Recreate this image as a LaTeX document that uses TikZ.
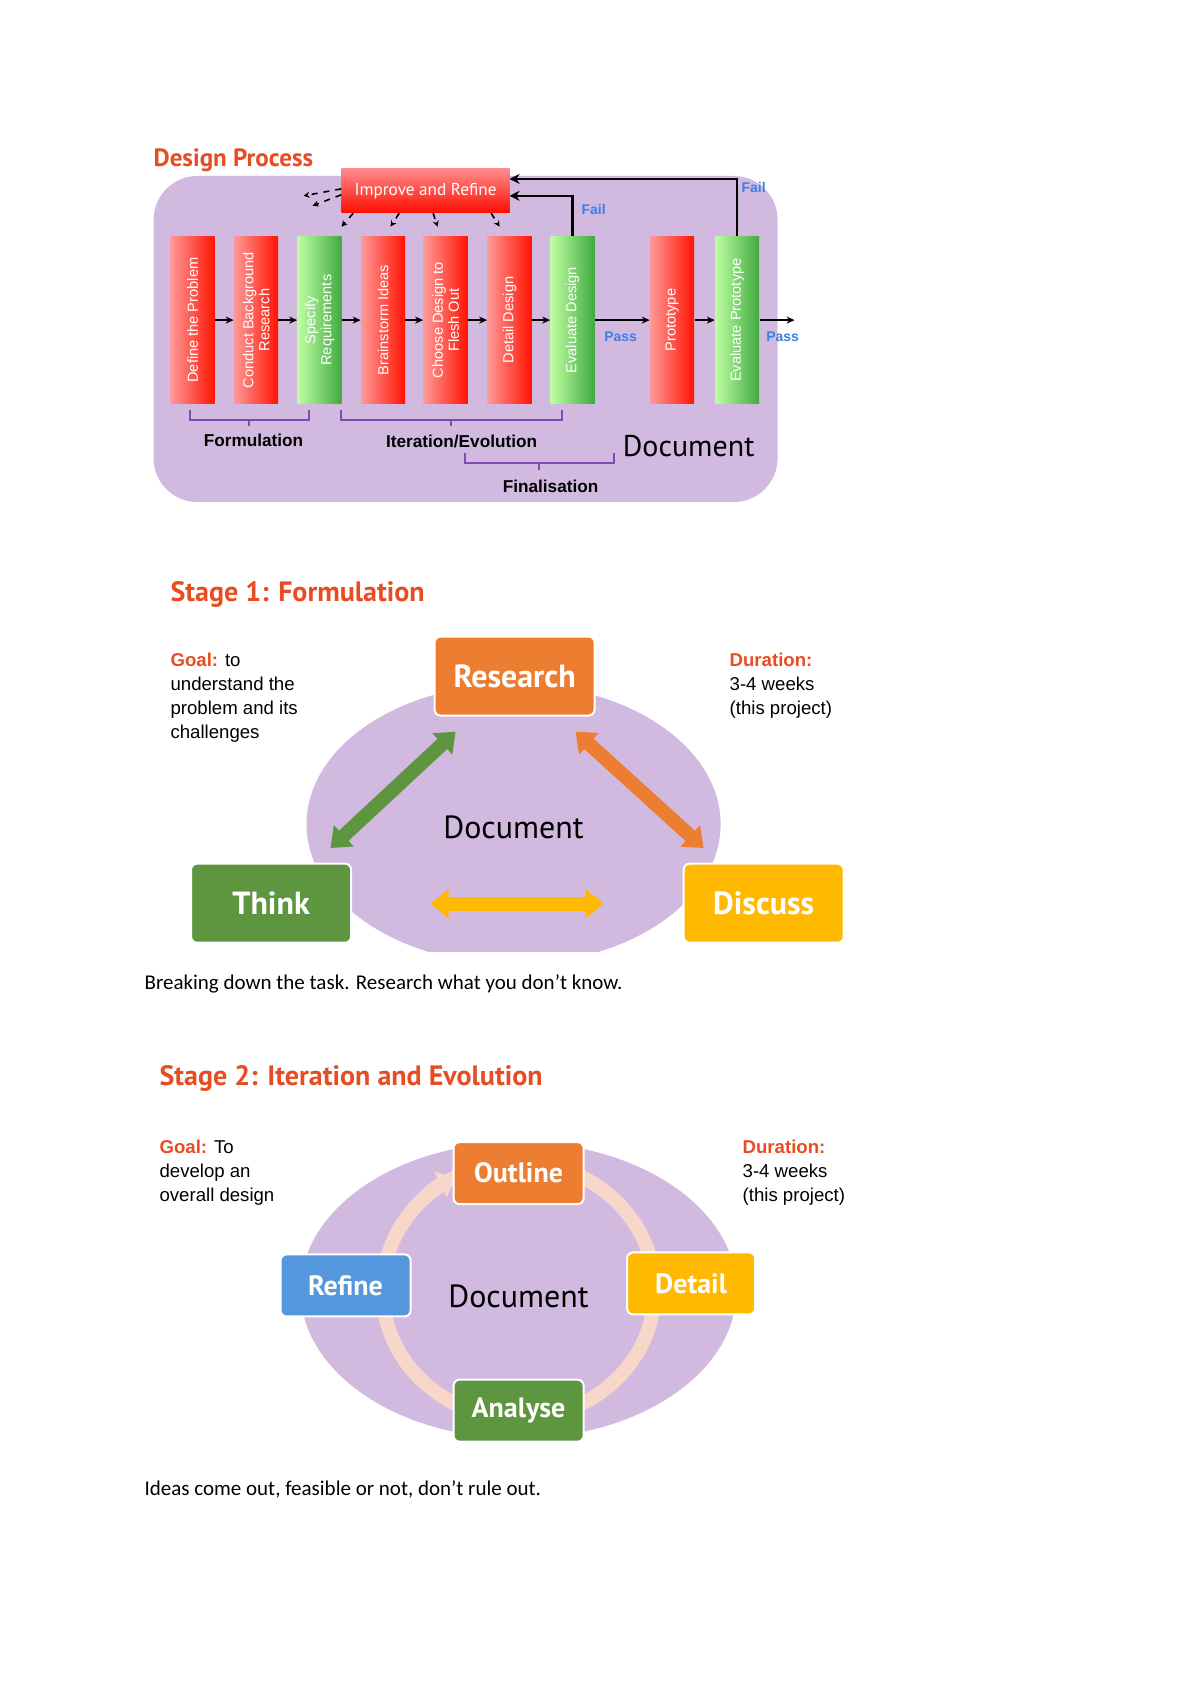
\documentclass[tikz,border=0pt]{standalone}
\usepackage{fontspec}
\setmainfont{Liberation Sans}
\newfontfamily\gothic{PT Sans}
\newfontfamily\calib{Carlito}
\usetikzlibrary{arrows.meta,calc}
\definecolor{lav}{HTML}{D1B9E0}
\definecolor{ttl}{HTML}{E84C22}
\definecolor{org}{HTML}{ED7D31}
\definecolor{grn}{HTML}{5E963F}
\definecolor{yel}{HTML}{FFB900}
\definecolor{blu}{HTML}{5597DC}
\definecolor{brc}{HTML}{7E4BB0}
\definecolor{pf}{HTML}{3D7FE6}
\definecolor{peach}{HTML}{F6D7CA}
\tikzset{
 x=0.5pt,y=-0.497pt,
 bar/.style={rotate=90,minimum width=83.5pt,minimum height=22pt,inner sep=1pt,text=white,font=\fontsize{7.3}{8}\selectfont,align=center},
 rbar/.style={bar,left color=red!40!white,right color=red!85!orange},
 gbar/.style={bar,left color=green!25!white!85!lime,right color=green!55!black!75!white},
 arr/.style={-{Stealth[length=4pt,width=3.5pt]},line width=0.8pt},
 fail/.style={-{Stealth[length=5pt,width=5pt]},line width=1.2pt},
 dsh/.style={-{Stealth[length=3pt,width=3pt]},dashed,line width=0.8pt},
 brace/.style={brc,line width=1pt},
 lbl/.style={font=\bfseries\fontsize{8.6}{10}\selectfont},
 pass/.style={text=pf,font=\bfseries\fontsize{7}{8}\selectfont},
 ttlS/.style={text=ttl,font=\gothic\bfseries\fontsize{14}{16}\selectfont,anchor=west},
 box/.style={rounded corners=3pt,draw=white,line width=1pt,text=white,font=\gothic\bfseries\fontsize{16}{18}\selectfont},
 side/.style={anchor=north west,align=left,font=\fontsize{9.3}{12}\selectfont},
 dbl/.style={line width=7pt,{Triangle[width=14pt,length=9pt]}-{Triangle[width=14pt,length=9pt]}},
 captxt/.style={anchor=west,font=\calib\fontsize{10.5}{12}\selectfont},
 ring/.style={peach,line width=7pt}
}
\begin{document}
\begin{tikzpicture}
\useasboundingbox (0,0) rectangle (1200,1708);
\begin{scope}[xshift=-2.75pt]
% ===== Design process
\node[ttlS,font=\gothic\bfseries\fontsize{12.5}{14}\selectfont] (t0) at (152,161) {Design Process};
\fill[lav,rounded corners=22pt] (159,177) rectangle (783,505);
\node[rectangle,minimum width=84pt,minimum height=22pt,top color=red!45!white,bottom color=red!90!orange,text=white,font=\gothic\fontsize{8.6}{10}\selectfont] (imp) at (431,192) {Improve and Refine};
\node[rbar] (b1) at (198,322) {Define the Problem};
\node[rbar] (b2) at (261.5,322) {Conduct Background\\Research};
\node[gbar] (b3) at (325,322) {Specify\\Requirements};
\node[rbar] (b4) at (388.5,322) {Brainstorm Ideas};
\node[rbar] (b5) at (451,322) {Choose Design to\\Flesh Out};
\node[rbar] (b6) at (515,322) {Detail Design};
\node[gbar] (b7) at (578,322) {Evaluate Design};
\node[rbar] (b8) at (677.5,322) {Prototype};
\node[gbar] (b9) at (742.5,322) {Evaluate Prototype};
\coordinate (out) at (800,322);
\foreach \a/\b in {b1/b2,b2/b3,b3/b4,b4/b5,b5/b6,b6/b7,b7/b8,b8/b9,b9/out}
  \draw[arr] (\a) -- (\b);
\coordinate (f1) at (515,197);
\coordinate (f2) at (515,180);
\draw[fail] (b7.east) |- (f1);
\draw[fail] (b9.east) |- (f2);
\node[pass] (fl1) at (599,211) {Fail};
\node[pass] (fl2) at (759,189) {Fail};
\node[pass] (ps1) at (626,339) {Pass};
\node[pass] (ps2) at (788,339) {Pass};
\coordinate (d1) at (309,197);
\coordinate (d2) at (318,207);
\coordinate (d3) at (347,228);
\coordinate (d4) at (396,228);
\coordinate (d5) at (443,228);
\coordinate (d6) at (505,228);
\draw[dsh] (imp.west) ++(0,-2) -- (d1);
\draw[dsh] (imp.west) ++(0,4) -- (d2);
\draw[dsh] ($(imp.south west)+(12,0)$) -- (d3);
\draw[dsh] ($(imp.south west)+(58,0)$) -- (d4);
\draw[dsh] ($(imp.south west)+(92,0)$) -- (d5);
\draw[dsh] ($(imp.south west)+(150,0)$) -- (d6);
\draw[brace] (195,412) -- (195,422) -- (314,422) -- (314,412) (254.5,422) -- (254.5,429);
\draw[brace] (346,412) -- (346,422) -- (567,422) -- (567,412) (456.5,422) -- (456.5,429);
\draw[brace] (470,456) -- (470,466) -- (619,466) -- (619,456) (544.5,466) -- (544.5,473);
\node[lbl] (lf) at (259,443) {Formulation};
\node[lbl] (li) at (467,444) {Iteration/Evolution};
\node[lbl] (lfi) at (556,489) {Finalisation};
\node[font=\gothic\fontsize{15}{17}\selectfont] (doc0) at (694,449) {Document};
% ===== Stage 1
\node[ttlS] (t1) at (169,598) {Stage 1: Formulation};
\begin{scope}
\clip (0,600) rectangle (1200,957);
\fill[lav] (519,829) ellipse [x radius=103.5pt,y radius=70pt];
\end{scope}
\node[box,fill=org,minimum width=80pt,minimum height=39.5pt] (res) at (520,680) {Research};
\node[box,fill=grn,minimum width=80pt,minimum height=39.5pt] (thk) at (276.5,908.5) {Think};
\node[box,fill=yel,minimum width=80pt,minimum height=39.5pt] (dis) at (769,908.5) {Discuss};
\node[font=\gothic\fontsize{16}{18}\selectfont] (doc1) at (519,832) {Document};
\coordinate (g1) at (461,736); \coordinate (g2) at (336,853);
\coordinate (o1) at (581,736); \coordinate (o2) at (709,853);
\coordinate (y1) at (436,909); \coordinate (y2) at (609,909);
\draw[dbl,grn] (g1) -- (g2);
\draw[dbl,org] (o1) -- (o2);
\draw[dbl,yel] (y1) -- (y2);
\node[side] (goal1) at (169,650) {\textcolor{ttl}{\bfseries Goal:} to\\understand the\\problem and its\\challenges};
\node[side] (dur1) at (728,650) {\textcolor{ttl}{\bfseries Duration:}\\3-4 weeks\\(this project)};
\node[captxt] (cap1) at (143,990) {Breaking down the task. Research what you don’t know.};
% ===== Stage 2
\node[ttlS] (t2) at (158,1085) {Stage 2: Iteration and Evolution};
\coordinate (c2) at (524,1298);
\fill[lav] (c2) ellipse [x radius=109pt,y radius=74pt];
\draw[ring] (c2) ellipse [x radius=68pt,y radius=64pt];
\draw[peach,line width=7pt,-{Triangle[width=14pt,length=8pt]}] ($(c2)+(150:68pt and 64pt)$) arc[start angle=150,end angle=118,x radius=68pt,y radius=64pt];
\node[box,fill=org,minimum width=65pt,minimum height=31pt,font=\gothic\bfseries\fontsize{14}{16}\selectfont] (otl) at (524,1180) {Outline};
\node[box,fill=yel,minimum width=64pt,minimum height=31pt,font=\gothic\bfseries\fontsize{14}{16}\selectfont] (dtl) at (696.5,1291) {Detail};
\node[box,fill=blu,minimum width=65pt,minimum height=31pt,font=\gothic\bfseries\fontsize{14}{16}\selectfont] (ref) at (351,1293) {Refine};
\node[box,fill=grn,minimum width=65pt,minimum height=31pt,font=\gothic\bfseries\fontsize{14}{16}\selectfont] (ana) at (524,1419) {Analyse};
\node[font=\gothic\fontsize{16}{18}\selectfont] (doc2) at (524,1304) {Document};
\node[side] (goal2) at (158,1140) {\textcolor{ttl}{\bfseries Goal:} To\\develop an\\overall design};
\node[side] (dur2) at (741,1140) {\textcolor{ttl}{\bfseries Duration:}\\3-4 weeks\\(this project)};
\node[captxt] (cap2) at (143,1498) {Ideas come out, feasible or not, don’t rule out.};
\end{scope}
\end{tikzpicture}
\end{document}
